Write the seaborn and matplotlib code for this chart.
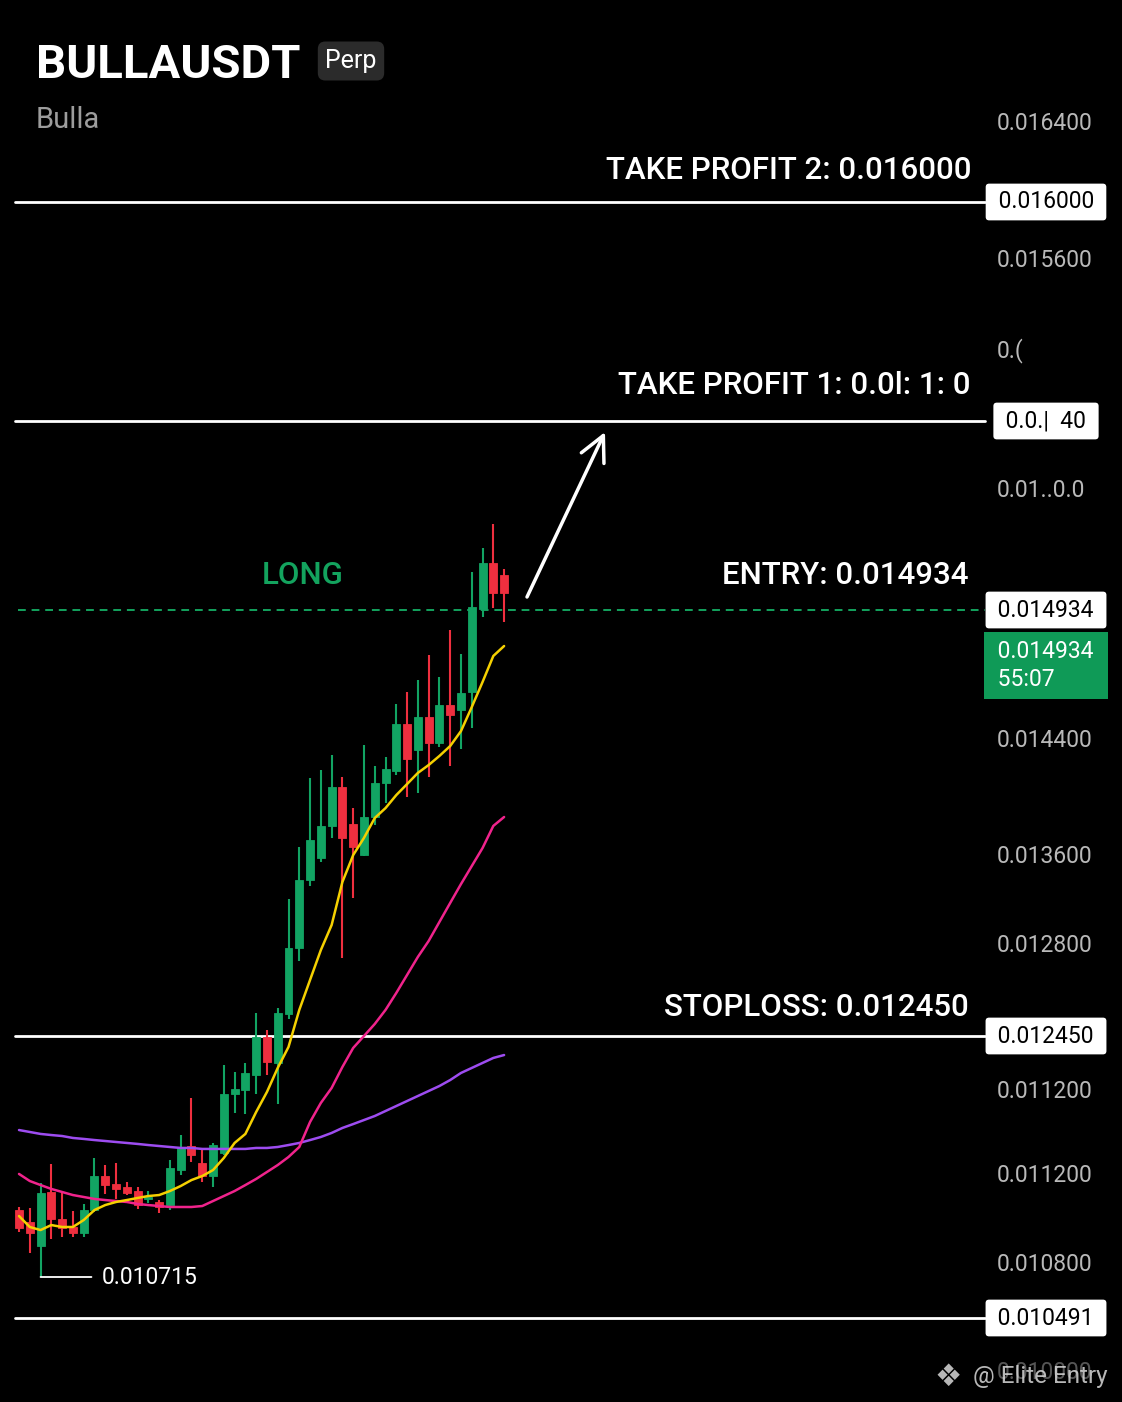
#%% BULLAUSDT long setup, redrawn from screenshot
import numpy as np
import matplotlib
matplotlib.use('Agg')
import matplotlib.pyplot as plt
import seaborn as sns

#%% values (prices)
candle_open  = [0.011197, 0.011111, 0.010938, 0.011327, 0.011133, 0.011075, 0.011032, 0.011197, 0.011442, 0.011385,
                0.011363, 0.011334, 0.011277, 0.011255, 0.011233, 0.011485, 0.011658, 0.011536, 0.011442, 0.011608,
                0.012032, 0.012061, 0.012169, 0.012443, 0.012256, 0.012578, 0.012963, 0.013360, 0.013488, 0.013675,
                0.013902, 0.013686, 0.013505, 0.013727, 0.013925, 0.013995, 0.014269, 0.014118, 0.014310, 0.014158,
                0.014380, 0.014351, 0.014456, 0.014937, 0.015060, 0.015028]
candle_high  = [0.011219, 0.011212, 0.011392, 0.011529, 0.011320, 0.011190, 0.011241, 0.011572, 0.011521, 0.011536,
                0.011399, 0.011363, 0.011334, 0.011269, 0.011557, 0.011737, 0.012004, 0.011644, 0.011680, 0.012241,
                0.012191, 0.012256, 0.012584, 0.012485, 0.012613, 0.013249, 0.013552, 0.013954, 0.014001, 0.014089,
                0.013960, 0.013779, 0.014147, 0.014024, 0.014077, 0.014386, 0.014456, 0.014526, 0.014672, 0.014543,
                0.014817, 0.014677, 0.015036, 0.015100, 0.015164, 0.015044]
candle_low   = [0.011039, 0.010888, 0.010715, 0.010989, 0.011003, 0.011003, 0.011003, 0.011183, 0.011313, 0.011277,
                0.011305, 0.011205, 0.011248, 0.011176, 0.011197, 0.011449, 0.011543, 0.011399, 0.011363, 0.011593,
                0.011896, 0.011888, 0.012032, 0.012169, 0.011960, 0.012549, 0.012887, 0.013325, 0.013465, 0.013605,
                0.012905, 0.013255, 0.013500, 0.013680, 0.013809, 0.013972, 0.013844, 0.013867, 0.013960, 0.014135,
                0.014024, 0.014124, 0.014246, 0.014893, 0.014939, 0.014864]
candle_close = [0.011068, 0.011032, 0.011320, 0.011133, 0.011068, 0.011032, 0.011197, 0.011442, 0.011377, 0.011349,
                0.011320, 0.011233, 0.011291, 0.011219, 0.011500, 0.011651, 0.011593, 0.011442, 0.011665, 0.012032,
                0.012068, 0.012184, 0.012443, 0.012263, 0.012584, 0.012963, 0.013360, 0.013593, 0.013675, 0.013902,
                0.013605, 0.013552, 0.013727, 0.013925, 0.014007, 0.014269, 0.014065, 0.014310, 0.014158, 0.014380,
                0.014322, 0.014450, 0.014942, 0.015060, 0.014980, 0.014980]

ma_fast = [0.011154, 0.011075, 0.011053, 0.011089, 0.011075, 0.011075, 0.011125, 0.011197, 0.011233, 0.011255,
           0.011269, 0.011284, 0.011298, 0.011305, 0.011334, 0.011370, 0.011413, 0.011442, 0.011485, 0.011572,
           0.011680, 0.011745, 0.011903, 0.012047, 0.012220, 0.012371, 0.012602, 0.012777, 0.012951, 0.013097,
           0.013348, 0.013505, 0.013605, 0.013721, 0.013779, 0.013855, 0.013919, 0.013984, 0.014030, 0.014083,
           0.014141, 0.014228, 0.014368, 0.014514, 0.014666, 0.014724]
ma_mid  = [0.011457, 0.011406, 0.011377, 0.011349, 0.011327, 0.011305, 0.011291, 0.011277, 0.011269, 0.011262,
           0.011255, 0.011241, 0.011233, 0.011226, 0.011219, 0.011219, 0.011219, 0.011226, 0.011262, 0.011298,
           0.011334, 0.011377, 0.011421, 0.011471, 0.011521, 0.011579, 0.011651, 0.011831, 0.011968, 0.012076,
           0.012227, 0.012364, 0.012450, 0.012520, 0.012602, 0.012701, 0.012806, 0.012911, 0.013004, 0.013115,
           0.013226, 0.013336, 0.013441, 0.013546, 0.013675, 0.013727]
ma_slow = [0.011773, 0.011759, 0.011745, 0.011737, 0.011730, 0.011716, 0.011709, 0.011701, 0.011694, 0.011687,
           0.011680, 0.011673, 0.011665, 0.011658, 0.011651, 0.011644, 0.011644, 0.011637, 0.011637, 0.011637,
           0.011637, 0.011637, 0.011644, 0.011644, 0.011651, 0.011665, 0.011680, 0.011701, 0.011723, 0.011752,
           0.011788, 0.011816, 0.011845, 0.011874, 0.011910, 0.011946, 0.011982, 0.012018, 0.012054, 0.012090,
           0.012133, 0.012184, 0.012220, 0.012256, 0.012292, 0.012313]

take_profit_2 = 0.016000
take_profit_1 = 0.015440
entry_price   = 0.014934
stoploss      = 0.012450
range_low     = 0.010491
swing_low     = 0.010715

tick_labels = ['0.016400', '0.015600', '0.(', '0.01..0.0', '0.014400', '0.013600',
               '0.012800', '0.011200', '0.011200', '0.010800', '0.010000']
level_prices = [take_profit_2, take_profit_1, entry_price, stoploss, range_low]
level_box_labels = ['0.016000', '0.0.|  40', '0.014934', '0.012450', '0.010491']

#%% layout (screen pixels of the 1122x1402 picture)
W, H = 1122, 1402
x0_px, dx_px = 19, 10.78            # first candle centre, candle spacing
tick_px = [121, 258, 348, 488, 738, 854, 943, 1089, 1173, 1262, 1370]
# the screenshot's price axis is not linear: anchor levels to their screen rows
scale_price = [0.009900, range_low, swing_low, stoploss, entry_price, take_profit_1, take_profit_2, 0.016400, 0.017000]
scale_px    = [1426, 1318, 1277, 1036, 610, 421, 202, 121, 0]

def fwd(p):
    return -np.interp(p, scale_price, scale_px)

def inv(v):
    return np.interp(-np.asarray(v), scale_px[::-1], scale_price[::-1])

green, red = '#12a463', '#ef2f3f'
c_fast, c_mid, c_slow = '#f5d000', '#f0238c', '#9d4cf0'

sns.set_theme(style='dark', rc={'axes.facecolor': 'black', 'figure.facecolor': 'black'})
plt.rcParams['font.family'] = ['Roboto', 'DejaVu Sans']

fig = plt.figure(figsize=(W/100, H/100), dpi=100)
ax = fig.add_axes([0, 0, 1, 1])
ax.set_facecolor('black')
ax.set_yscale('function', functions=(fwd, inv))

#%% candles + moving averages
idx = np.arange(len(candle_open))
o, h, l, c = map(np.array, (candle_open, candle_high, candle_low, candle_close))
cols = np.where(c >= o, green, red)
ax.vlines(idx, l, h, colors=cols, lw=1.5, zorder=3)
ax.bar(idx, c - o, bottom=o, width=0.74, color=cols, edgecolor=cols, linewidth=0.6, zorder=4)

sns.lineplot(x=idx, y=ma_slow, color=c_slow, lw=1.8, ax=ax, zorder=5)
sns.lineplot(x=idx, y=ma_mid, color=c_mid, lw=1.8, ax=ax, zorder=5)
sns.lineplot(x=idx, y=ma_fast, color=c_fast, lw=1.8, ax=ax, zorder=6)

#%% level lines
xl, xr = 15/W, 985/W
for lv in [take_profit_2, take_profit_1, stoploss, range_low]:
    ax.axhline(lv, xmin=xl, xmax=xr, color='white', lw=2, zorder=2)
ax.axhline(entry_price, xmin=18/W, xmax=xr, color='#13a35e', lw=1.4, ls=(0, (4, 3)), zorder=2)

lab_kw = dict(xycoords=('axes fraction', 'data'), textcoords='offset points', va='center',
              color='white', fontsize=22.5, weight='medium')
ax.annotate('TAKE PROFIT 2: 0.016000', xy=(971/W, take_profit_2), xytext=(0, 23), ha='right', **lab_kw)
ax.annotate('TAKE PROFIT 1: 0.0l: 1: 0', xy=(970/W, take_profit_1), xytext=(0, 25.5), ha='right', **lab_kw)
ax.annotate('ENTRY: 0.014934', xy=(968/W, entry_price), xytext=(0, 24.5), ha='right', **lab_kw)
ax.annotate('STOPLOSS: 0.012450', xy=(969/W, stoploss), xytext=(0, 20.5), ha='right', **lab_kw)
lab_kw['color'] = '#13a35e'
ax.annotate('LONG', xy=(303/W, entry_price), xytext=(0, 24.5), ha='center', **lab_kw)

# price boxes on the right
for lv, txt in zip(level_prices, level_box_labels):
    ax.annotate(' ' + txt + ' ', xy=(1046/W, lv), xycoords=('axes fraction', 'data'),
                ha='center', va='center', fontsize=16.5, color='black', zorder=10,
                bbox=dict(boxstyle='round,pad=0.3,rounding_size=0.15', fc='white', ec='none'))
ax.annotate(' 0.014934 \n 55:07', xy=(1046/W, entry_price), xycoords=('axes fraction', 'data'),
            xytext=(0, -40), textcoords='offset points', ha='center', va='center',
            multialignment='left', fontsize=16.5, color='white', linespacing=1.25, zorder=10,
            bbox=dict(boxstyle='square,pad=0.35', fc='#0f9a57', ec='none'))

# swing low marker
ax.annotate('0.010715', xy=(2, swing_low), xytext=(44, 0), textcoords='offset points',
            ha='left', va='center', fontsize=16.5, color='white',
            arrowprops=dict(arrowstyle='-', color='white', lw=1.3, shrinkA=5, shrinkB=0))

# projection arrow
arrow_tail = ((527 - x0_px)/dx_px, inv(-597))
arrow_tip = ((605 - x0_px)/dx_px, inv(-432))
ax.annotate('', xy=arrow_tip, xytext=arrow_tail,
            arrowprops=dict(arrowstyle='->,head_length=0.9,head_width=0.45', color='white',
                            lw=2.5, mutation_scale=20, shrinkA=0, shrinkB=0))

#%% axes cosmetics
ax.set_xlim(-x0_px/dx_px, (W - x0_px)/dx_px)
ax.set_ylim(inv(-H), inv(0))
ax.yaxis.tick_right()
ax.set_yticks(inv(-np.array(tick_px)), labels=tick_labels)
ax.minorticks_off()
ax.tick_params(axis='y', length=0, pad=-90, labelsize=16.5, labelcolor='#b9b9b9')
ax.get_yticklabels()[-1].set_color('#555555')   # faint label under the watermark
ax.set_xticks([])
ax.grid(False)
for s in ax.spines.values():
    s.set_visible(False)

#%% header + watermark
fig.text(36/W, 1 - 78/H, 'BULLAUSDT', fontsize=34, weight='bold', color='white', va='baseline')
fig.text(351/W, 1 - 61/H, 'Perp', fontsize=18, color='white', ha='center', va='center',
         bbox=dict(boxstyle='round,pad=0.3,rounding_size=0.3', fc='#2b2b2b', ec='none'))
fig.text(36/W, 1 - 128/H, 'Bulla', fontsize=21, color='#9d9d9d', va='baseline')
fig.text(1108/W, 1 - 1377/H, '@ Elite Entry', fontsize=17.5, color='#d8d8d8', alpha=0.85,
         ha='right', va='center', zorder=20)
fig.text(962/W, 1 - 1377/H, '❖', fontsize=22, color='#d8d8d8', alpha=0.85,
         ha='right', va='center', family=['DejaVu Sans'], zorder=20)

fig.savefig('out.png', dpi=100, facecolor='black')
